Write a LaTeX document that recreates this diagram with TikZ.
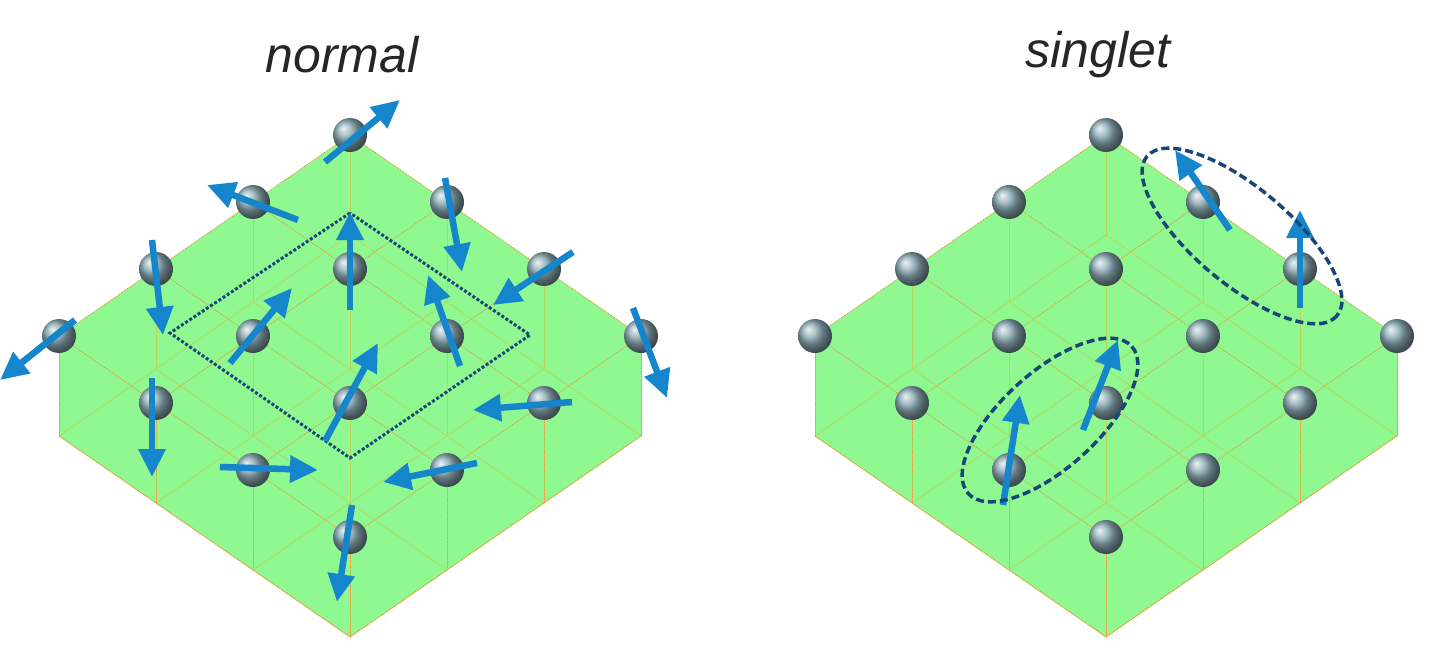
\documentclass[tikz,border=0pt]{standalone}
\usepackage{fontspec}
\setmainfont{Liberation Sans}
\usetikzlibrary{arrows.meta}
\definecolor{slabgreen}{RGB}{144,248,144}
\definecolor{gridor}{RGB}{230,150,60}
\definecolor{gridfaint}{RGB}{190,210,90}
\definecolor{spin}{RGB}{22,134,204}
\definecolor{navy}{RGB}{25,70,120}
\definecolor{atomc}{RGB}{140,172,182}
\tikzset{
  atom/.style={circle,minimum size=34pt,inner sep=0pt,shading=ball,ball color=atomc},
  spinarrow/.style={spin,line width=6.5pt,-{Triangle[length=28pt,width=26pt]}},
  topgrid/.style={gridor,densely dotted,line width=0.9pt},
  faint/.style={gridfaint,line width=0.6pt},
  title/.style={font=\itshape\fontsize{50}{60}\selectfont,text=black!85},
  pairloop/.style={navy,line width=3.5pt,dash pattern=on 8pt off 4pt},
}
\newcommand\drawslab[1]{%
 \begin{scope}[shift={#1}]
  \fill[slabgreen] (0,0) -- (-291,201) -- (-291,301) -- (0,502) -- (291,301) -- (291,201) -- cycle;
  \foreach \k in {0,1,2,3}{
    \draw[faint] ({-97*\k},{67*\k+100}) -- ({-97*\k+291},{67*\k+301});
    \draw[faint] ({97*\k},{67*\k+100}) -- ({97*\k-291},{67*\k+301});
    \foreach \m in {0,1,2,3}{
      \draw[faint] ({-97*\k+97*\m},{67*\k+67*\m}) -- ({-97*\k+97*\m},{67*\k+67*\m+100});
    }
  }
  \foreach \k in {0,1,2,3}{
    \draw[topgrid] ({-97*\k},{67*\k}) -- ({-97*\k+291},{67*\k+201});
    \draw[topgrid] ({97*\k},{67*\k}) -- ({97*\k-291},{67*\k+201});
    \draw[topgrid] ({-291+97*\k},{201+67*\k}) -- ({-291+97*\k},{301+67*\k});
    \draw[topgrid] ({291-97*\k},{201+67*\k}) -- ({291-97*\k},{301+67*\k});
  }
  \draw[topgrid] (-291,301) -- (0,502) -- (291,301);
 \end{scope}}
\begin{document}
\begin{tikzpicture}[x=1pt,y=-1pt]
\useasboundingbox (0,0) rectangle (1440,655);
\node[title] (t1) at (342,55) {normal};
\node[title] (t2) at (1098,55) {singlet};
\drawslab{(350,135)}
\drawslab{(1106,135)}
\foreach \i in {0,1,2,3}{\foreach \j in {0,1,2,3}{
  \node[atom] (L\i\j) at ({350-97*\i+97*\j},{135+67*\i+67*\j}) {};
  \node[atom] (R\i\j) at ({1106-97*\i+97*\j},{135+67*\i+67*\j}) {};
}}
\draw[navy,line width=3pt,dotted] (350,213) -- (170,333) -- (350,458) -- (530,335) -- cycle;
\draw[spinarrow] (325,162) -- (400,100);
\draw[spinarrow] (298,220) -- (207,185);
\draw[spinarrow] (445,178) -- (462,272);
\draw[spinarrow] (152,240) -- (163,335);
\draw[spinarrow] (350,310) -- (350,212);
\draw[spinarrow] (573,252) -- (493,305);
\draw[spinarrow] (75,320) -- (0,380);
\draw[spinarrow] (230,363) -- (292,288);
\draw[spinarrow] (460,366) -- (428,275);
\draw[spinarrow] (633,308) -- (667,398);
\draw[spinarrow] (152,378) -- (152,477);
\draw[spinarrow] (325,441) -- (378,343);
\draw[spinarrow] (572,402) -- (473,410);
\draw[spinarrow] (220,467) -- (318,470);
\draw[spinarrow] (477,463) -- (383,482);
\draw[spinarrow] (352,505) -- (337,602);
\draw[spinarrow] (1230,230) -- (1175,150);
\draw[spinarrow] (1300,308) -- (1300,210);
\draw[spinarrow] (1003,505) -- (1020,395);
\draw[spinarrow] (1083,430) -- (1118,340);
\draw[pairloop,rotate around={-40:(1242,236)}] (1242,236) ellipse [x radius=124,y radius=48];
\draw[pairloop,rotate around={42:(1050,420)}] (1050,420) ellipse [x radius=110,y radius=48];
\end{tikzpicture}
\end{document}
